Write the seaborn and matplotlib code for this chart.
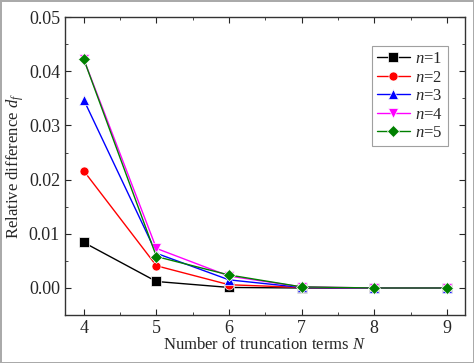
import numpy as np
import pandas as pd
import seaborn as sns
import matplotlib.pyplot as plt
from matplotlib.ticker import MultipleLocator

N_terms = [4, 5, 6, 7, 8, 9]
d_n1 = [0.0084, 0.0012, 0.0001, 0.0000, 0.0000, 0.0000]
d_n2 = [0.0216, 0.0041, 0.0006, 0.0001, 0.0000, 0.0000]
d_n3 = [0.0347, 0.0064, 0.0015, 0.0001, 0.0000, 0.0000]
d_n4 = [0.0422, 0.0073, 0.0022, 0.0002, 0.0000, 0.0000]
d_n5 = [0.0422, 0.0058, 0.0024, 0.0002, 0.0000, 0.0000]
labels = ["$n$=1", "$n$=2", "$n$=3", "$n$=4", "$n$=5"]

series = [d_n1, d_n2, d_n3, d_n4, d_n5]
df = pd.concat(
    [pd.DataFrame({"N": N_terms, "d": vals, "n": lab}) for lab, vals in zip(labels, series)],
    ignore_index=True,
)

sns.set_style("ticks")
plt.rcParams['font.family'] = ['Liberation Serif', 'DejaVu Serif']
plt.rcParams['mathtext.fontset'] = 'custom'
plt.rcParams['mathtext.it'] = 'Liberation Serif:italic'
plt.rcParams['mathtext.rm'] = 'Liberation Serif'

colors = ["#000000", "#ff0000", "#0000ff", "#ff00ff", "#008000"]
markers = ["s", "o", "^", "v", "D"]

fig, ax = plt.subplots(figsize=(4.74, 3.63), dpi=100)
sns.lineplot(data=df, x="N", y="d", hue="n", style="n",
             palette=dict(zip(labels, colors)),
             markers=dict(zip(labels, markers)),
             dashes=False, markersize=6.5, linewidth=1, markeredgewidth=0.5,
             ax=ax)

ax.set_xlim(3.74, 9.25)
ax.set_ylim(-0.005, 0.05)
ax.xaxis.set_major_locator(MultipleLocator(1))
ax.xaxis.set_minor_locator(MultipleLocator(0.5))
ax.yaxis.set_major_locator(MultipleLocator(0.01))
ax.yaxis.set_minor_locator(MultipleLocator(0.005))
ax.yaxis.set_major_formatter(plt.FormatStrFormatter('%.2f'))
ax.tick_params(which='both', direction='in', top=True, right=True, labelsize=13)
ax.tick_params(which='major', length=4)
ax.tick_params(which='minor', length=2)
for s in ax.spines.values():
    s.set_linewidth(1)
    s.set_color('#333333')

ax.set_xlabel("Number of truncation terms $N$", fontsize=12, labelpad=0)
ax.set_ylabel("Relative difference $d_f$", fontsize=12, labelpad=2)

leg = ax.legend(loc='upper right', bbox_to_anchor=(0.957, 0.902), fontsize=12,
                frameon=True, fancybox=False, edgecolor='#888888',
                handlelength=2.0, borderpad=0.3, labelspacing=0.15, handletextpad=0.3,
                borderaxespad=0)
leg.get_frame().set_linewidth(0.8)

fig.subplots_adjust(left=0.137, right=0.981, top=0.953, bottom=0.132)
fig.patch.set_edgecolor('#aaaaaa')
fig.patch.set_linewidth(2)
fig.savefig("out.png", dpi=100)
